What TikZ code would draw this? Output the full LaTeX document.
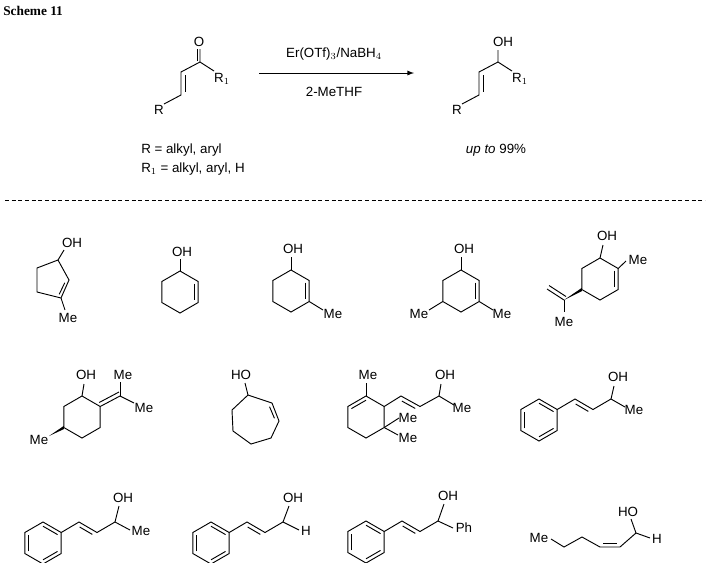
\documentclass[tikz,border=0pt]{standalone}
\usepackage{fontspec}
\setmainfont{Liberation Sans}
\newfontfamily\serifb{Liberation Serif}
\usetikzlibrary{calc}
\tikzset{lab/.style={inner sep=0pt,font=\fontsize{10}{12}\selectfont},bond/.style={line width=0.7pt}}
\newcommand\ring[2]{\coordinate (#1c) at (#2);
 \foreach \i/\a in {1/270,2/330,3/30,4/90,5/150,6/210}{\coordinate (#1\i) at ($(#1c)+(\a:21)$);}
 \draw[bond] (#11)--(#12)--(#13)--(#14)--(#15)--(#16)--cycle;}
\newcommand\inb[3]{\draw[bond] ($(#1c)!0.8!(#1#2)$)--($(#1c)!0.8!(#1#3)$);}
\newcommand\benz[2]{\ring{#1}{#2}\inb{#1}{5}{6}\inb{#1}{3}{4}\inb{#1}{1}{2}}
\newcommand\dbl[3]{\draw[bond] ($(#1)!0.15!(#2)!3pt!#3:(#2)$)--($(#1)!0.85!(#2)!3pt!#3:(#2)$);}
\begin{document}
\begin{tikzpicture}[x=0.75pt,y=-0.75pt]
\useasboundingbox (0,0) rectangle (710,562);
\node[anchor=west,inner sep=0pt,font=\serifb\bfseries\fontsize{10}{12}\selectfont] (title) at (3,11) {Scheme 11};
% reactant
\coordinate (rC) at (200,62); \coordinate (rO) at (200,49); \coordinate (ra) at (181,72); \coordinate (rb) at (181,95); \coordinate (rR) at (164,104); \coordinate (rR1) at (214,71);
\draw[bond] (rO)--(rC)--(ra)--(rb)--(rR); \draw[bond] (rC)--(rR1);
\draw[bond] ($(rC)+(-3,-1)$)--($(rO)+(-3,0)$);
\dbl{ra}{rb}{90}
\node[lab] (o1) at (199,42) {O};
\node[lab] (r1a) at (222,79) {R$_1$};
\node[lab] (r1b) at (159,110) {R};
% arrow
\coordinate (a1) at (259,73); \coordinate (a2) at (414,73);
\draw[bond,-latex] (a1)--(a2);
\node[lab] (cat) at (334,54) {Er(OTf)$_3$/NaBH$_4$};
\node[lab] (solv) at (334,92) {2-MeTHF};
% product
\coordinate (pC) at (498,62); \coordinate (pO) at (498,50); \coordinate (pa) at (479,72); \coordinate (pb) at (479,95); \coordinate (pR) at (462,104); \coordinate (pR1) at (512,71);
\draw[bond] (pO)--(pC)--(pa)--(pb)--(pR); \draw[bond] (pC)--(pR1);
\dbl{pa}{pb}{90}
\node[lab] (oh0) at (503,42) {OH};
\node[lab] (r1c) at (520,79) {R$_1$};
\node[lab] (r1d) at (457,110) {R};
\node[lab,anchor=west] (def1) at (141,150) {R = alkyl, aryl};
\node[lab,anchor=west] (def2) at (141,169) {R$_1$ = alkyl, aryl, H};
\node[lab] (yld) at (496,150) {\textit{up to} 99\%};
\draw[dashed,line width=0.5pt,dash pattern=on 3pt off 2pt] (5,200)--(705,200);
% mol 1 cyclopentenol
\coordinate (m1a) at (58,260); \coordinate (m1b) at (69,280); \coordinate (m1c) at (61,298); \coordinate (m1d) at (37,292); \coordinate (m1e) at (37,268);
\draw[bond] (m1a)--(m1b)--(m1c)--(m1d)--(m1e)--cycle;
\draw[bond] ($(m1b)!0.15!(m1c)+(-3,0)$)--($(m1b)!0.85!(m1c)+(-3,-1)$);
\draw[bond] (m1a)--(64,250); \draw[bond] (m1c)--(65,310);
\node[lab] (m1oh) at (72,243) {OH}; \node[lab] (m1me) at (68,318) {Me};
% mol 2
\ring{b}{180,292} \inb{b}{2}{3}
\draw[bond] (b1)--(180,259); \node[lab] (m2oh) at (182,252) {OH};
% mol 3
\ring{c}{291,291} \inb{c}{2}{3}
\draw[bond] (c1)--(291,257); \node[lab] (m3oh) at (293,249) {OH};
\draw[bond] (c3)--(323,310); \node[lab] (m3me) at (333,314) {Me};
% mol 4
\ring{d}{461,291} \inb{d}{2}{3}
\draw[bond] (d1)--(461,257); \node[lab] (m4oh) at (464,249) {OH};
\draw[bond] (d3)--(493,310); \node[lab] (m4me) at (502,314) {Me};
\draw[bond] (d5)--(429,310); \node[lab] (m4me2) at (419,314) {Me};
% mol 5 carveol
\ring{e}{600,279} \inb{e}{2}{3}
\draw[bond] (e1)--(603,245); \node[lab] (m5oh) at (607,236) {OH};
\draw[bond] (e2)--(626,261); \node[lab] (m5me) at (638,260) {Me};
\coordinate (ei) at (564,300);
\fill ($(e5)+(0,-1.6)$)--($(e5)+(0,1.6)$)--(ei)--cycle;
\draw[bond] (ei)--(547,289); \draw[bond] ($(ei)+(2,-3.5)$)--($(547,289)+(2,-3.5)$);
\draw[bond] (ei)--(564,312); \node[lab] (m5me2) at (564,322) {Me};
% mol 6
\ring{f}{82,417}
\coordinate (fx) at (120,396);
\draw[bond] (f2)--(fx); \draw[bond] ($(f2)+(-1,-4)$)--($(fx)+(-1,-4)$);
\draw[bond] (fx)--(120,382); \node[lab] (m6me1) at (123,375) {Me};
\draw[bond] (fx)--(134,403); \node[lab] (m6me2) at (144,408) {Me};
\draw[bond] (f1)--(84,384); \node[lab] (m6oh) at (86,375) {OH};
\fill ($(f5)+(0,-1.6)$)--($(f5)+(0,1.6)$)--(49,436)--cycle;
\node[lab] (m6me3) at (39,440) {Me};
% mol 7 cycloheptenol
\coordinate (g1) at (248,395); \coordinate (g2) at (272,403); \coordinate (g3) at (279,421); \coordinate (g4) at (271,438); \coordinate (g5) at (251,444); \coordinate (g6) at (233,431); \coordinate (g7) at (232,410);
\draw[bond] (g1)--(g2)--(g3)--(g4)--(g5)--(g6)--(g7)--cycle;
\draw[bond] ($(g2)!0.15!(g3)+(-3.5,1)$)--($(g2)!0.85!(g3)+(-3.5,0)$);
\draw[bond] (g1)--(245,383); \node[lab] (m7oh) at (241,375) {HO};
% mol 8 ionol
\ring{h}{366,417} \inb{h}{6}{1}
\draw[bond] (h1)--(366,383); \node[lab] (m8me) at (368,375) {Me};
\draw[bond] (h3)--(399,418); \node[lab] (m8me2) at (408,418) {Me};
\draw[bond] (h3)--(398,435); \node[lab] (m8me3) at (408,438) {Me};
\coordinate (hA) at (401,396); \coordinate (hB) at (420,406.5); \coordinate (hC) at (439,396);
\draw[bond] (h2)--(hA)--(hB)--(hC)--(454,405); \dbl{hA}{hB}{-90}
\draw[bond] (hC)--(441,384); \node[lab] (m8oh) at (445,375) {OH};
\node[lab] (m8me4) at (462,408) {Me};
% mol 9
\benz{i}{539,420}
\coordinate (iA) at (575,399); \coordinate (iB) at (593,409.5); \coordinate (iC) at (611,399);
\draw[bond] (i2)--(iA)--(iB)--(iC)--(625,407); \dbl{iA}{iB}{-90}
\draw[bond] (iC)--(614,386); \node[lab] (m9oh) at (618,377) {OH}; \node[lab] (m9me) at (634,410) {Me};
% mol 10
\benz{j}{43,543}
\coordinate (jA) at (79,522); \coordinate (jB) at (97,532.5); \coordinate (jC) at (115,522);
\draw[bond] (j2)--(jA)--(jB)--(jC)--(130,530); \dbl{jA}{jB}{-90}
\draw[bond] (jC)--(119,506); \node[lab] (m10oh) at (123,498) {OH}; \node[lab] (m10me) at (141,531) {Me};
% mol 11
\benz{k}{211,543}
\coordinate (kA) at (247,522); \coordinate (kB) at (265,532.5); \coordinate (kC) at (283,522);
\draw[bond] (k2)--(kA)--(kB)--(kC)--(299,530); \dbl{kA}{kB}{-90}
\draw[bond] (kC)--(289,506); \node[lab] (m11oh) at (293,498) {OH}; \node[lab] (m11h) at (306,531) {H};
% mol 12
\benz{l}{366,542}
\coordinate (lA) at (402,521); \coordinate (lB) at (420,531.5); \coordinate (lC) at (438,521);
\draw[bond] (l2)--(lA)--(lB)--(lC)--(453,528); \dbl{lA}{lB}{-90}
\draw[bond] (lC)--(444,504); \node[lab] (m12oh) at (448,496) {OH}; \node[lab] (m12ph) at (464,528) {Ph};
% mol 13
\coordinate (nA) at (551,539); \coordinate (nB) at (564,547); \coordinate (nC) at (582,537); \coordinate (nD) at (600,547); \coordinate (nE) at (620,547); \coordinate (nF) at (636,533);
\draw[bond] (nA)--(nB)--(nC)--(nD)--(nE)--(nF)--(650,538); \dbl{nD}{nE}{90}
\draw[bond] (nF)--(631,519); \node[lab] (m13oh) at (628,512) {HO};
\node[lab] (m13h) at (657,539) {H}; \node[lab] (m13me) at (539,538) {Me};
\end{tikzpicture}
\end{document}
